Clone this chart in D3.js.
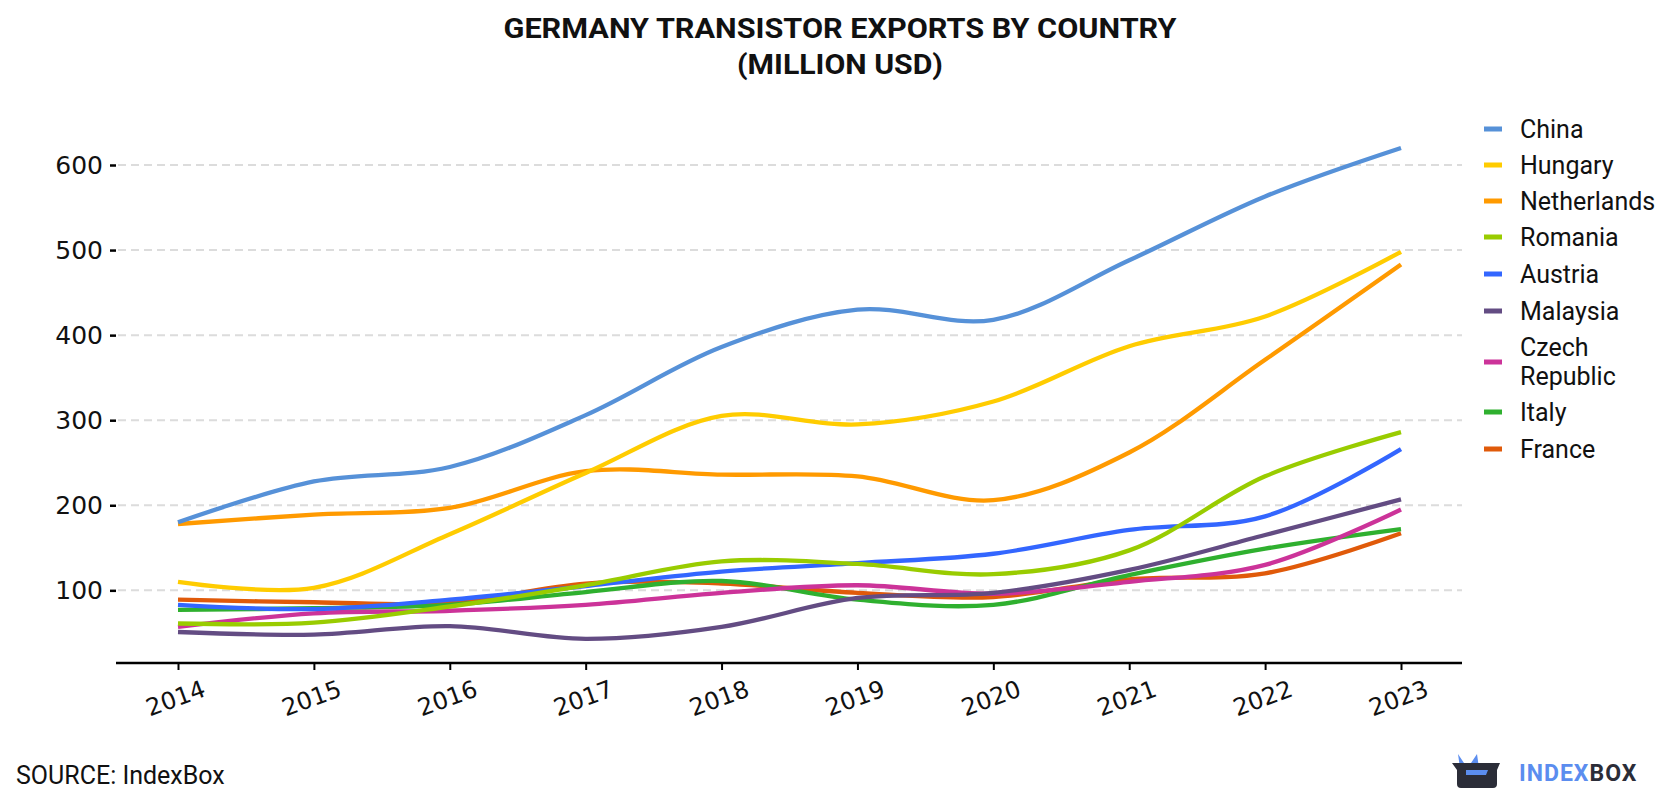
<!DOCTYPE html>
<html>
<head>
<meta charset="utf-8">
<script src="https://cdn.jsdelivr.net/npm/d3@7"></script>
<style>
  html,body{margin:0;padding:0;background:#fff;}
  svg{display:block;font-family:Roboto,"Noto Sans",sans-serif;}
</style>
</head>
<body>
<svg id="chart" width="1680" height="800"></svg>
<script>
const years=["2014","2015","2016","2017","2018","2019","2020","2021","2022","2023"];
const yTicks=[100,200,300,400,500,600];

const china=[180,228,245,306,386,430,418,488,563,620];
const hungary=[110,103,166,238,305,295,322,387,422,498];
const netherlands=[178,189,197,240,236,234,206,262,371,483];
const romania=[61,62,81,106,134,131,119,147,234,286];
const austria=[83,78,89,105,122,132,143,171,187,266];
const malaysia=[51,48,58,43,57,91,97,124,165,207];
const czech=[57,73,76,83,97,106,96,110,130,195];
const italy=[77,79,83,98,111,89,83,118,149,172];
const france=[89,86,85,108,108,97,92,113,120,167];

const series=[
  {name:"China",values:china,color:"#5691d8"},
  {name:"Hungary",values:hungary,color:"#ffcc00"},
  {name:"Netherlands",values:netherlands,color:"#ff9a00"},
  {name:"Romania",values:romania,color:"#99cc00"},
  {name:"Austria",values:austria,color:"#3366ff"},
  {name:"Malaysia",values:malaysia,color:"#634c83"},
  {name:"Czech Republic",values:czech,color:"#cc3399"},
  {name:"Italy",values:italy,color:"#2fb02f"},
  {name:"France",values:france,color:"#e05a0a"}
];

const svg=d3.select("#chart");
const plot={left:116,right:1462,top:165,base:663};
const tickFont="'DejaVu Sans',sans-serif";

const x=d3.scalePoint().domain(years).range([178,1401]);
const y=d3.scaleLinear().domain([0,600]).range([675.4,165]);

// title
svg.append("text").attr("x",840).attr("y",38).attr("text-anchor","middle")
  .attr("font-size",28).attr("font-weight",700).attr("fill","#111")
  .attr("textLength",673).attr("lengthAdjust","spacingAndGlyphs")
  .text("GERMANY TRANSISTOR EXPORTS BY COUNTRY");
svg.append("text").attr("x",840).attr("y",74).attr("text-anchor","middle")
  .attr("font-size",28).attr("font-weight",700).attr("fill","#111")
  .attr("textLength",206).attr("lengthAdjust","spacingAndGlyphs")
  .text("(MILLION USD)");

// grid
svg.append("g").selectAll("line").data(yTicks).join("line")
  .attr("x1",plot.left+2).attr("x2",plot.right)
  .attr("y1",d=>y(d)).attr("y2",d=>y(d))
  .attr("stroke","#dcdcdc").attr("stroke-width",2).attr("stroke-dasharray","8,5");

// y axis (ticks + labels only)
const ya=svg.append("g").attr("transform",`translate(${plot.left},0)`)
  .call(d3.axisLeft(y).tickValues(yTicks).tickSize(6).tickPadding(7));
ya.select(".domain").remove();
ya.selectAll(".tick line").attr("stroke","#000").attr("stroke-width",2.5);
ya.selectAll(".tick text").attr("font-size",25).attr("fill","#111")
  .attr("font-family",tickFont);

// x axis
const xa=svg.append("g").attr("transform",`translate(0,${plot.base})`)
  .call(d3.axisBottom(x).tickSize(7).tickSizeOuter(0));
xa.select(".domain").attr("d",`M${plot.left},0H${plot.right}`).attr("stroke","#000").attr("stroke-width",2.5);
xa.selectAll(".tick line").attr("stroke","#000").attr("stroke-width",2);
xa.selectAll(".tick text").attr("font-size",24).attr("fill","#111")
  .attr("font-family",tickFont)
  .attr("text-anchor","middle").attr("dy",0).attr("y",0)
  .attr("transform","translate(0,43) rotate(-20)");

// lines
const line=d3.line().x((d,i)=>x(years[i])).y(d=>y(d)).curve(d3.curveCatmullRom.alpha(0.5));
svg.append("g").selectAll("path").data(series.slice().reverse()).join("path")
  .attr("d",d=>line(d.values)).attr("fill","none")
  .attr("stroke",d=>d.color).attr("stroke-width",4.3).attr("stroke-linecap","butt");

// legend
const legY=[129,165,201,237,274,311,362,412,449];
const leg=svg.append("g").selectAll("g").data(series).join("g")
  .attr("transform",(d,i)=>`translate(1484,${legY[i]})`);
leg.append("rect").attr("x",0).attr("y",-2.5).attr("width",18).attr("height",5).attr("fill",d=>d.color);
leg.append("text").attr("x",36).attr("font-size",25).attr("fill","#111")
  .each(function(d){
    const parts=d.name==="Czech Republic"?["Czech","Republic"]:[d.name];
    const t=d3.select(this);
    parts.forEach((p,k)=>{
      t.append("tspan").attr("x",36)
        .attr("dy",k===0?(parts.length>1?"-0.25em":"0.35em"):"1.15em").text(p);
    });
  });

// source
svg.append("text").attr("x",16).attr("y",784).attr("font-size",25).attr("fill","#111").text("SOURCE: IndexBox");

// logo
const logo=svg.append("g").attr("transform","translate(1452,754)");
logo.append("path").attr("d","M6,0 L12,9 L19,9 L25,0 L27,14 L8,14 Z").attr("fill","#5b8def");
logo.append("path").attr("d","M0,9 L48,9 L45,16 L45,30 Q45,34 41,34 L9,34 Q5,34 5,30 L5,16 Z").attr("fill","#2b2d38");
logo.append("path").attr("d","M14,16 L36,16 L34,21 L14,21 Z").attr("fill","#5b8def");
const lt=svg.append("text").attr("x",1519).attr("y",781).attr("font-size",23).attr("font-weight",700).attr("letter-spacing",1);
lt.append("tspan").attr("fill","#5b8def").text("INDEX");
lt.append("tspan").attr("fill","#2b2d38").text("BOX");
</script>
</body>
</html>
